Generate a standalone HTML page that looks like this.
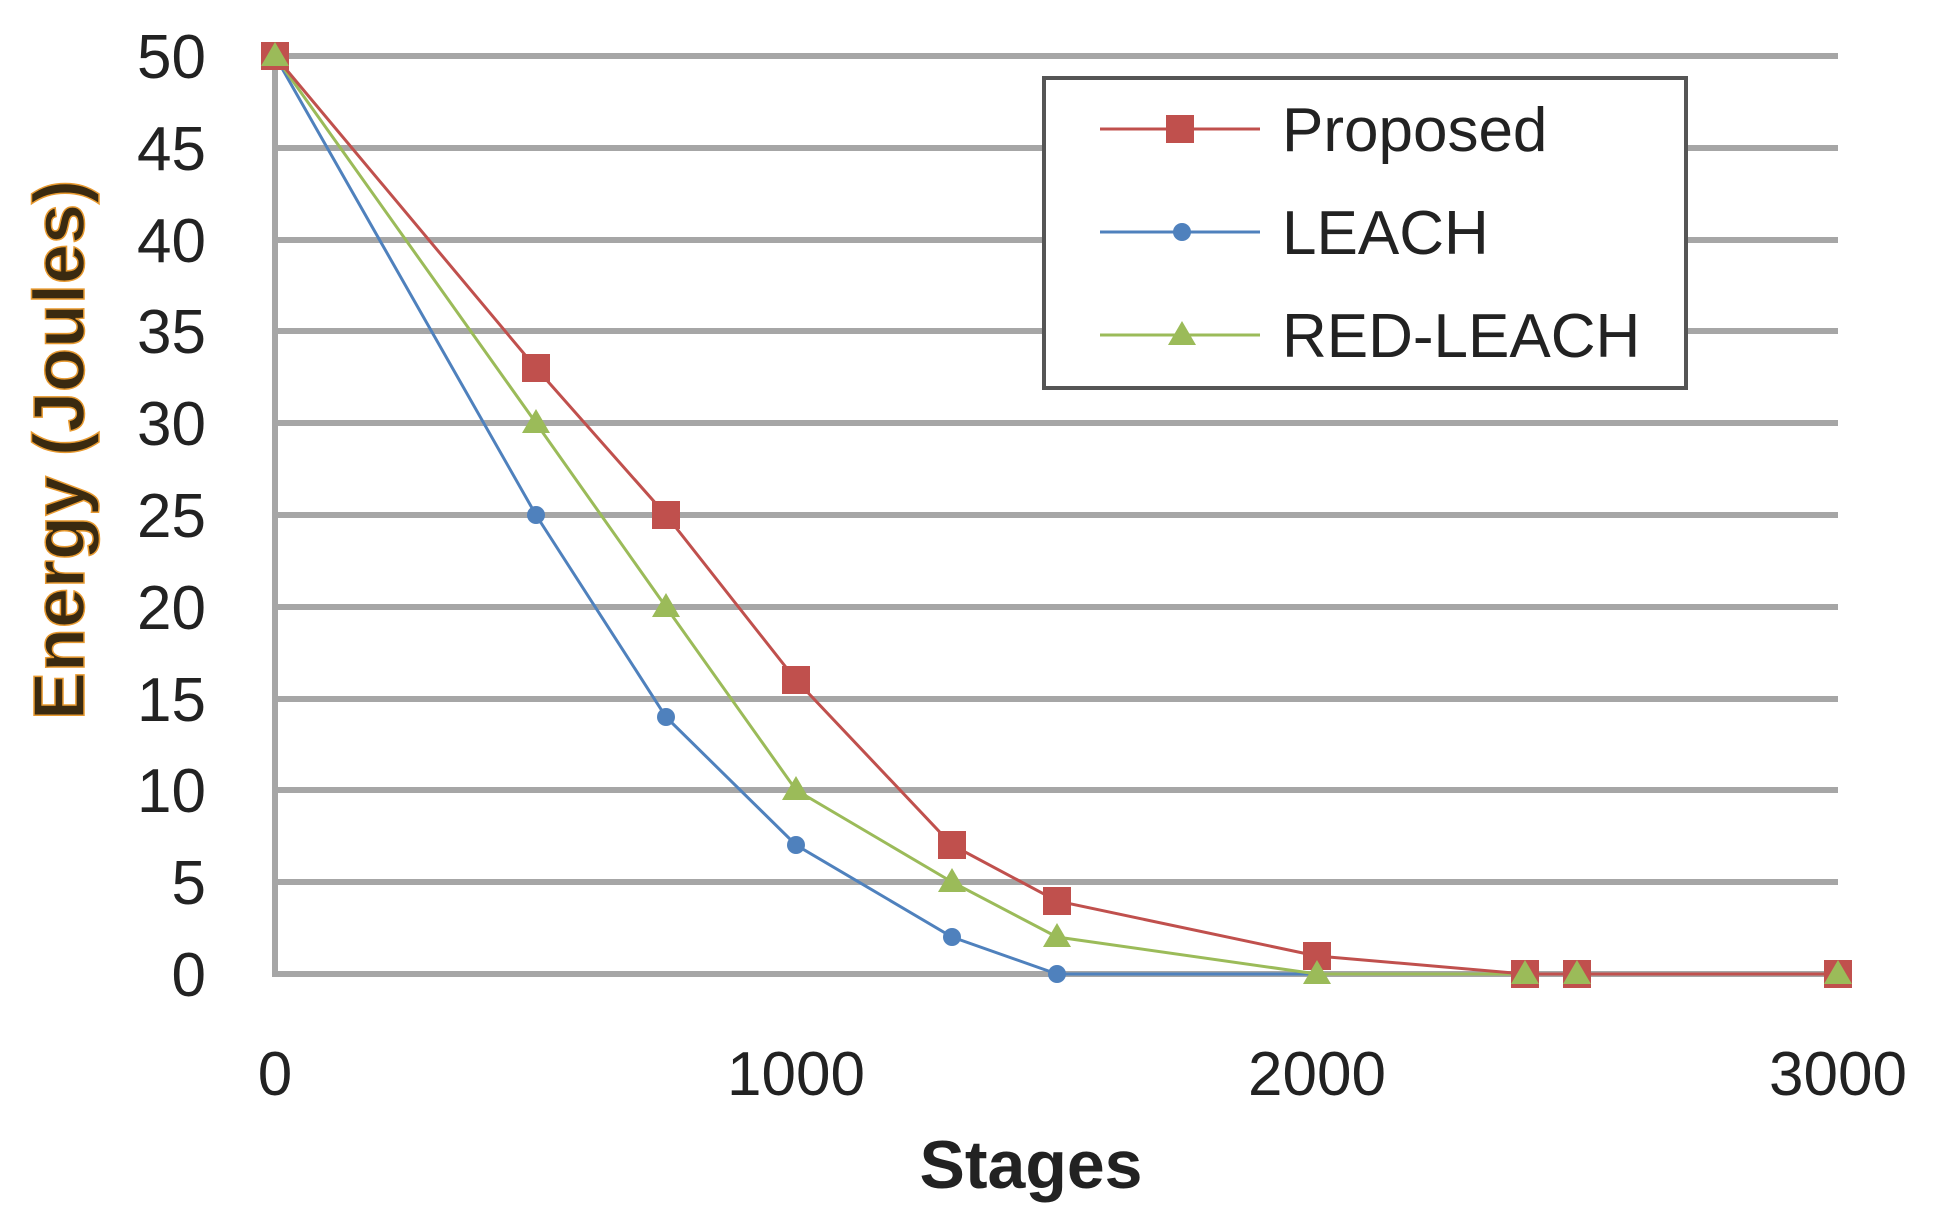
<!DOCTYPE html>
<html><head><meta charset="utf-8"><style>html,body{margin:0;padding:0;background:#fff}svg{display:block}</style></head>
<body>
<svg width="1949" height="1222" viewBox="0 0 1949 1222" xmlns="http://www.w3.org/2000/svg" font-family="Liberation Sans, sans-serif">
<g stroke="#a6a6a6" stroke-width="6">
<line x1="275" y1="56" x2="1838" y2="56"/>
<line x1="275" y1="148" x2="1838" y2="148"/>
<line x1="275" y1="240" x2="1838" y2="240"/>
<line x1="275" y1="331" x2="1838" y2="331"/>
<line x1="275" y1="423" x2="1838" y2="423"/>
<line x1="275" y1="515" x2="1838" y2="515"/>
<line x1="275" y1="607" x2="1838" y2="607"/>
<line x1="275" y1="699" x2="1838" y2="699"/>
<line x1="275" y1="790" x2="1838" y2="790"/>
<line x1="275" y1="882" x2="1838" y2="882"/>
<line x1="275" y1="974" x2="1838" y2="974"/>
<line x1="275" y1="53" x2="275" y2="977"/>
</g>
<g font-size="62" fill="#222" text-anchor="end">
<text x="206" y="78">50</text><text x="206" y="170">45</text><text x="206" y="262">40</text>
<text x="206" y="353">35</text><text x="206" y="445">30</text><text x="206" y="537">25</text>
<text x="206" y="629">20</text><text x="206" y="721">15</text><text x="206" y="812">10</text>
<text x="206" y="904">5</text><text x="206" y="996">0</text>
</g>
<g font-size="62" fill="#222" text-anchor="middle">
<text x="275" y="1095">0</text><text x="796" y="1095">1000</text><text x="1317" y="1095">2000</text><text x="1838" y="1095">3000</text>
<text x="1031" y="1188" font-size="68" font-weight="bold">Stages</text>
</g>
<text transform="translate(84,450) rotate(-90)" font-size="72" font-weight="bold" fill="#3a2a10" stroke="#e89a30" stroke-width="1.5" text-anchor="middle">Energy (Joules)</text>
<polyline fill="none" stroke="#4f81bd" stroke-width="3" points="275,56 536,515 666,717 796,845 952,937 1057,974 1317,974 1838,974"/>
<polyline fill="none" stroke="#9bbb59" stroke-width="3" points="275,56 536,423 666,607 796,790 952,882 1057,937 1317,974 1838,974"/>
<polyline fill="none" stroke="#c0504d" stroke-width="3" points="275,56 536,368 666,515 796,680 952,845 1057,901 1317,956 1525,974 1838,974"/>
<g fill="#4f81bd">
<circle cx="536" cy="515" r="9"/><circle cx="666" cy="717" r="9"/><circle cx="796" cy="845" r="9"/><circle cx="952" cy="937" r="9"/><circle cx="1057" cy="974" r="9"/>
</g>
<g fill="#c0504d">
<rect x="261" y="42" width="28" height="28"/><rect x="522" y="354" width="28" height="28"/><rect x="652" y="501" width="28" height="28"/><rect x="782" y="666" width="28" height="28"/><rect x="938" y="831" width="28" height="28"/><rect x="1043" y="887" width="28" height="28"/><rect x="1303" y="942" width="28" height="28"/><rect x="1511" y="960" width="28" height="28"/><rect x="1563" y="960" width="28" height="28"/><rect x="1824" y="960" width="28" height="28"/>
</g>
<g fill="#9bbb59">
<polygon points="275,42 289,66 261,66"/><polygon points="536,409 550,433 522,433"/><polygon points="666,593 680,617 652,617"/><polygon points="796,776 810,800 782,800"/><polygon points="952,868 966,892 938,892"/><polygon points="1057,923 1071,947 1043,947"/><polygon points="1317,960 1331,984 1303,984"/><polygon points="1525,960 1539,984 1511,984"/><polygon points="1577,960 1591,984 1563,984"/><polygon points="1838,960 1852,984 1824,984"/>
</g>
<rect x="1044" y="78" width="642" height="310" fill="#fff" stroke="#555" stroke-width="4"/>
<line x1="1100" y1="129" x2="1260" y2="129" stroke="#c0504d" stroke-width="3"/>
<rect x="1166" y="115" width="28" height="28" fill="#c0504d"/>
<line x1="1100" y1="232" x2="1260" y2="232" stroke="#4f81bd" stroke-width="3"/>
<circle cx="1182" cy="232" r="9" fill="#4f81bd"/>
<line x1="1100" y1="335" x2="1260" y2="335" stroke="#9bbb59" stroke-width="3"/>
<polygon points="1182,321 1196,345 1168,345" fill="#9bbb59"/>
<g font-size="62" fill="#222">
<text x="1282" y="151">Proposed</text><text x="1282" y="254">LEACH</text><text x="1282" y="357">RED-LEACH</text>
</g>
</svg>
</body></html>
